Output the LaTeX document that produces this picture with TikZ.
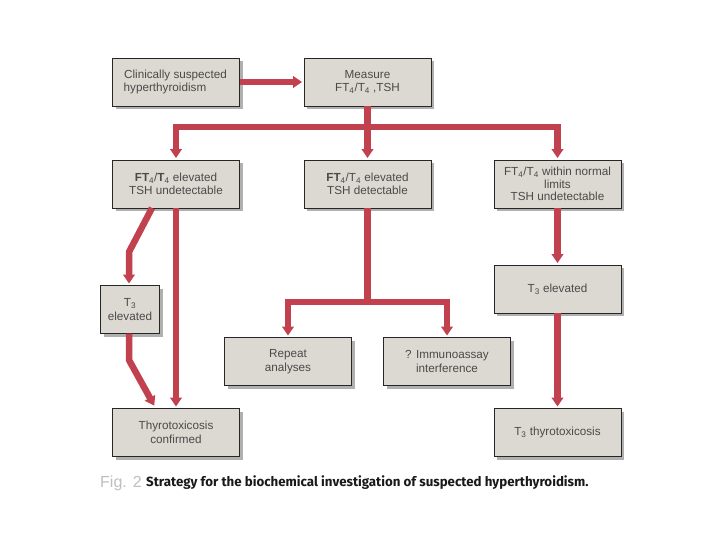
\documentclass[tikz,border=0pt]{standalone}
\usepackage{fontspec}
\setmainfont{Liberation Sans}
\newfontfamily\capfont{Fira Sans}
\usetikzlibrary{arrows.meta,shadows}
\definecolor{flowred}{HTML}{C2414F}
\definecolor{boxgrey}{HTML}{DBD9D1}
\definecolor{boxtext}{HTML}{4A4A4A}
\definecolor{shadowgrey}{HTML}{B0B0B0}
\newcommand{\subs}[1]{\textsubscript{#1}}
\tikzset{
  boxnode/.style={draw=black!85,line width=0.9pt,fill=boxgrey,text=boxtext,
    minimum width=127pt,minimum height=48pt,inner sep=0pt,align=center,
    font=\fontsize{11.7}{13.6}\selectfont,
    drop shadow={shadow xshift=3pt,shadow yshift=-3pt,fill=shadowgrey,opacity=1}},
  flow/.style={draw=flowred,line width=6.5pt,line join=miter},
  flowtip/.style={flow,-{Triangle[length=9pt,width=11.5pt]},shorten >=1.5pt}
}
\begin{document}
\begin{tikzpicture}[x=1pt,y=-1pt]
\useasboundingbox (0,0) rectangle (720,540);
\fill[white] (0,0) rectangle (720,540);
% boxes
\node[boxnode] (A) at (176,82) {\hspace*{-1pt}Clinically suspected\\\hspace*{-22pt}hyperthyroidism};
\node[boxnode] (B) at (367.5,82) {Measure\\FT\subs{4}/T\subs{4} ,TSH};
\node[boxnode] (C) at (176,184) {\textbf{FT}\subs{4}/\textbf{T}\subs{4} elevated\\TSH undetectable};
\node[boxnode] (D) at (367.5,184) {\textbf{FT}\subs{4}/T\subs{4} elevated\\TSH detectable};
\node[boxnode,font=\fontsize{11.7}{12.6}\selectfont] (E) at (557.5,184) {FT\subs{4}/T\subs{4} within normal\\limits\\TSH undetectable};
\node[boxnode] (F) at (557.5,289) {T\subs{3} elevated};
\node[boxnode,minimum width=59pt,minimum height=48pt] (G) at (130,309.5) {T\subs{3}\\elevated};
\node[boxnode] (H) at (288,361.5) {Repeat\\analyses};
\node[boxnode] (I) at (447,361.5) {? Immunoassay\\interference};
\node[boxnode] (J) at (176,432.5) {Thyrotoxicosis\\confirmed};
\node[boxnode] (K) at (557.5,432.5) {T\subs{3} thyrotoxicosis};
% junctions and bends
\coordinate (busB) at (367.5,127);
\coordinate (busD) at (367.5,302);
\coordinate (cOut) at (152,208);
\coordinate (cBend) at (129,252);
\coordinate (gOut) at (129,333.5);
\coordinate (gBend) at (129,360);
\coordinate (jIn) at (155,407);
% connectors
\draw[flowtip] (A.east) -- (B.west);
\draw[flowtip] (B.south) -- (D.north);
\draw[flowtip] (busB) -| (C.north);
\draw[flowtip] (busB) -| (E.north);
\draw[flowtip] (C.south) -- (J.north);
\draw[flowtip] (cOut) -- (cBend) -- (G.north -| cBend);
\draw[flowtip] (gOut) -- (gBend) -- (jIn);
\draw[flow] (D.south) -- (busD);
\draw[flowtip] (busD) -| (H.north);
\draw[flowtip] (busD) -| (I.north);
\draw[flowtip] (E.south) -- (F.north);
\draw[flowtip] (F.south) -- (K.north);
% caption
\node[anchor=base west,inner sep=0pt,text=black!25,font=\fontsize{16}{18}\selectfont] (figlabel) at (100,487) {Fig. 2};
\node[anchor=base west,inner sep=0pt,text=black!90,font=\capfont\bfseries\fontsize{13.3}{15}\selectfont] (caption) at (146,486) {Strategy for the biochemical investigation of suspected hyperthyroidism.};
\end{tikzpicture}
\end{document}
